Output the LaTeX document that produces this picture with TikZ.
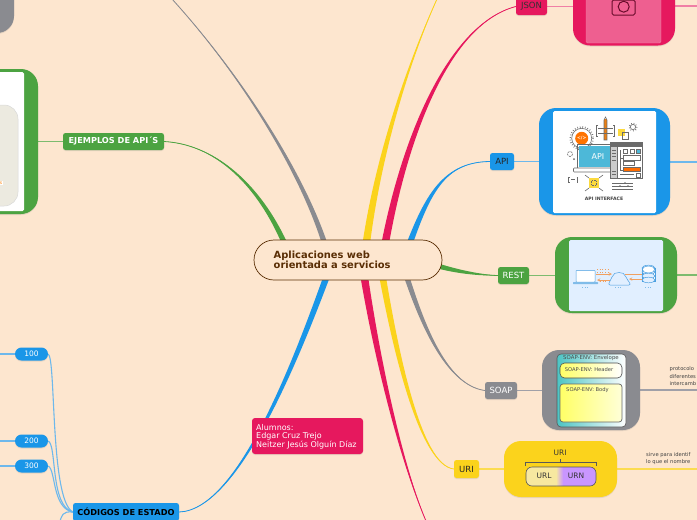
\documentclass[tikz,border=0pt]{standalone}
\usepackage{fontspec}
\setmainfont{DejaVu Sans}
\usetikzlibrary{calc,shadows,decorations.pathreplacing}
\pgfdeclarelayer{bg}
\pgfsetlayers{bg,main}
\definecolor{paper}{HTML}{FDE6CF}
\definecolor{cpink}{HTML}{E6185E}
\definecolor{cpinklt}{HTML}{EE5F90}
\definecolor{cblue}{HTML}{1A96E8}
\definecolor{cgreen}{HTML}{4CA341}
\definecolor{cgray}{HTML}{8A8B90}
\definecolor{cyellow}{HTML}{FBD31C}
\definecolor{cbrown}{HTML}{5A2E05}
\definecolor{lbluesky}{HTML}{E1EFFF}
\definecolor{orng}{HTML}{F0A060}
\definecolor{dbline}{HTML}{4A9FE0}
\definecolor{artgray}{HTML}{6A6A6A}
\definecolor{beige}{HTML}{ECEAE0}
\definecolor{urlc}{HTML}{F7E8A0}
\definecolor{urnc}{HTML}{C996FF}
\definecolor{softyellow}{HTML}{FFFF66}
\definecolor{softyellowb}{HTML}{FFFFD8}
\definecolor{tealc}{HTML}{4CC4C4}
\definecolor{apiscreen}{HTML}{4DB8D8}
\definecolor{leadgreen}{HTML}{7DBB6E}
\definecolor{leadblue}{HTML}{6DB8EC}
\definecolor{leadpink}{HTML}{F07FA5}
\definecolor{leadgray}{HTML}{A0A0A8}
\definecolor{leadyellow}{HTML}{FCDC50}
\newcommand\fs[1]{\fontsize{#1}{#1}\selectfont}
\newcommand\taper[6]{%
  \fill[#1] ($#2+#6$) .. controls ($#3+0.75*#6$) and ($#4+0.25*#6$) .. #5
     .. controls ($#4-0.25*#6$) and ($#3-0.75*#6$) .. ($#2-#6$) -- cycle;
  \draw[#1,line width=.8] #2 .. controls #3 and #4 .. #5;}
\tikzset{
  softshadow/.style={drop shadow={shadow xshift=0pt,shadow yshift=-1pt,opacity=.18}},
  lab/.style={rounded corners=2.5,inner sep=0,minimum height=17,font=\fs{8.5},softshadow},
  boldlab/.style={lab,font=\bfseries\fs{8.2}},
  pill/.style={rounded corners=6.5,inner sep=0,minimum width=33,minimum height=13,fill=cblue,text=white,font=\fs{7.5},softshadow},
  bigbox/.style={rounded corners=17,inner sep=0,softshadow},
  panel/.style={rounded corners=1.5,inner sep=0},
  note/.style={inner sep=0,anchor=west,text=black!75,font=\fs{5.2}},
  art/.style={artgray,line width=.6},
  lead/.style={line width=1.1},
}
\begin{document}
\begin{tikzpicture}[x=1pt,y=-1pt]
\useasboundingbox (0,0) rectangle (697,520);
\begin{pgfonlayer}{bg}
  \fill[paper] (0,0) rectangle (697,520);
\end{pgfonlayer}
\clip (0,0) rectangle (697,520);

% central topic
\node[draw=cbrown,line width=.7,fill=paper,rounded corners=20,minimum width=188,minimum height=40,inner sep=0] (center) at (348,260) {};
\node[inner sep=0,anchor=west,align=left,text=cbrown,font=\bfseries\fs{9.9}] (centertext) at (273.5,260) {\baselineskip=12pt Aplicaciones web\\orientada a servicios};

% image boxes
\node[bigbox,fill=cgray,minimum width=80,minimum height=70] (grayimg) at (-26,-2) {};
\node[bigbox,fill=cgreen,minimum width=120,minimum height=145] (ejimg) at (-22,141.5) {};
\node[panel,fill=white,minimum width=80,minimum height=139] (ejinner) at (-16,141.5) {};
\node[rounded corners=14,fill=beige,draw=black!15,line width=.5,inner sep=0,minimum width=70,minimum height=101] (ejbeige) at (-17,155.5) {};
\node[inner sep=1,fill=white,text=orange,font=\fs{4.5}] (ejtxt) at (1,183) {s};

\node[bigbox,fill=cpink,minimum width=102,minimum height=65] (jsonimg) at (624,13) {};
\node[panel,fill=cpinklt,draw=leadpink,line width=.4,minimum width=75,minimum height=60] (jsoninner) at (623.5,13) {};
\draw[black!55!cpink,line width=1,rounded corners=1.5] (612,0) rectangle (635,15);
\draw[black!55!cpink,line width=1] (623.7,6.7) circle (5.5);

\node[bigbox,fill=cblue,minimum width=131,minimum height=107] (apiimg) at (604.5,161.5) {};
\node[panel,fill=white,minimum width=103,minimum height=102] (apiinner) at (604.5,162) {};
% API art
\draw[art,dotted,line width=1.6] (581.7,138.3) circle (11.5);
\draw[art] (581.7,138.3) circle (10);
\fill[orange!90!red] (581.7,138.3) circle (6.5);
\node[inner sep=0,text=white,font=\bfseries\fs{4.5}] (apitag) at (581.7,138.3) {</>};
\fill[orange!70!brown] (604,119) rectangle (607,140);
\draw[art] (604,120) -- (605.5,117) -- (607,120) -- (607,140) -- (604,140) -- cycle;
\draw[art] (598,125) -- (596.5,125) -- (596.5,136) -- (598,136);
\draw[art] (613,125) -- (614.5,125) -- (614.5,136) -- (613,136);
\draw[art,line width=.4] (598,128) -- (613,128) (598,133) -- (613,133);
\fill[cyellow!85!white] (618,129) rectangle (625,136);
\draw[art] (622,132.5) rectangle (628.5,139.5);
\draw[art,dotted,line width=1.3] (633,127) circle (3.8);
\draw[art] (633,127) circle (2.6);
\draw[art,dashed,dash pattern=on 2pt off 1pt] (570,154) circle (2.5);
\fill[artgray] (574,159) circle (1);
\fill[apiscreen] (579,146) rectangle (612,167);
\draw[art] (577.5,144.5) rectangle (612,168);
\node[inner sep=0,text=white,font=\fs{8}] (apiword) at (598,156.5) {API};
\draw[art,fill=white,rounded corners=.8] (573.5,168) rectangle (613,172);
\draw[art,fill=white] (610.5,142) rectangle (642,178);
\fill[artgray] (610.5,142) rectangle (642,146.5);
\draw[art,fill=black!20] (610.5,146.5) rectangle (617,178);
\foreach \yy in {150,153,156,160,171,174}{\draw[artgray,line width=1] (612,\yy) -- (615.5,\yy);}
\draw[art] (623,149) rectangle (627.5,153.5) (630,149) rectangle (634,153.5);
\draw[art,fill=apiscreen] (636,149) rectangle (640,153.5);
\draw[art] (623,155.5) rectangle (640,160);
\draw[art] (623,161.5) rectangle (634,165.5);
\draw[art,fill=orange!85!red] (623,167) rectangle (640,171);
\draw[art] (636,173) rectangle (640,177);
\draw[artgray,line width=1] (620,174) -- (634,174);
\draw[art] (620,150) -- (620,170) -- (623,170) (620,158) -- (623,158);
\fill[cyellow!85!white] (589,178) rectangle (599,188);
\draw[art,dashed,dash pattern=on 1pt off .7pt] (591.5,180.5) rectangle (596.5,185.5);
\draw[art] (589,178) -- (585,175) (599,178) -- (603,175) (589,188) -- (585,191) (599,188) -- (603,191);
\draw[art] (569,177) -- (568.5,177) -- (568.5,182) -- (569,182) (576.5,177) -- (577,177) -- (577,182) -- (576.5,182) (571,179.5) -- (575,179.5);
\draw[art,line width=.4] (612,183) -- (633,183) (612,186) -- (633,186) (612,189) -- (633,189);
\fill[artgray] (625,183) circle (.9) (620,186) circle (.9) (628,186) circle (.9);
\node[inner sep=0,text=black!75,font=\bfseries\fs{4.6}] (apicap) at (604,199) {API INTERFACE};

\node[bigbox,fill=cgreen,minimum width=122,minimum height=76] (restimg) at (616,275) {};
\node[panel,fill=lbluesky,minimum width=94,minimum height=71] (restinner) at (616,275.5) {};
% REST art
\draw[dbline,fill=white,line width=.5,rounded corners=.5] (576,270.5) rectangle (595,282);
\fill[dbline!70!white,rounded corners=.5] (573,282) rectangle (598,284);
\draw[dbline,fill=lbluesky,line width=.5] (610,285) to[out=180,in=250] (612,277) to[out=70,in=170] (619,272.5) to[out=10,in=110] (626,277) to[out=-70,in=0] (629,285) -- cycle;
\draw[dbline,fill=white,line width=.5] (642,268) rectangle (655,281);
\foreach \yy in {268,272,276,280}{\draw[dbline,fill=lbluesky,line width=.5] (648.5,\yy) ellipse (6.5 and 2.8);}
\fill[white] (648.5,269.5) ellipse (6 and 3.2);
\draw[dbline,line width=.5] (648.5,269.5) ellipse (6.3 and 3.4);
\draw[orng,line width=.5,-stealth] (596,274) -- (612,274);
\draw[orng,line width=.5,stealth-] (597,280) -- (610,280);
\draw[orng,line width=.5] (625,274) -- (642,274);
\draw[orng,line width=.5,stealth-] (629,279) -- (642,279);
\draw[orng,line width=.7,dotted] (597,269) -- (609,269) (597,272) -- (609,272) (600,281.5) -- (606,281.5);
\draw[dbline!70!white,line width=.7,dotted] (582,287) -- (588,287) (615,287) -- (622,287) (645,287) -- (653,287);

\node[bigbox,fill=cgray,minimum width=98,minimum height=80] (soapimg) at (591,390) {};
\node[rounded corners=4,draw=black!65,line width=.6,left color=tealc,right color=white,inner sep=0,minimum width=69,minimum height=73] (envelope) at (591.5,390.5) {};
\node[inner sep=0,text=black!70,font=\fs{5.4}] (envtxt) at (591,358.5) {SOAP-ENV: Envelope};
\node[rounded corners=4.5,draw=black!70,line width=.6,left color=softyellow,right color=white,inner sep=0,minimum width=62,minimum height=15] (header) at (591,370.5) {};
\node[inner sep=0,text=black!70,font=\fs{5.2}] (headertxt) at (589,369.5) {SOAP-ENV: Header};
\node[rounded corners=3,draw=black!60,line width=.7,left color=softyellow,right color=softyellowb,inner sep=0,minimum width=62,minimum height=38] (body) at (591,403) {};
\node[inner sep=0,text=black!70,font=\fs{5.2}] (bodytxt) at (587.5,390) {SOAP-ENV: Body};

\node[bigbox,fill=cyellow,minimum width=113,minimum height=56] (uriimg) at (560.5,469) {};
\begin{scope}
  \clip[rounded corners=6] (526,467) rectangle (596,486);
  \fill[urlc] (526,467) rectangle (556,486);
  \shade[left color=urlc,right color=urnc] (556,467) rectangle (563,486);
  \fill[urnc] (563,467) rectangle (596,486);
\end{scope}
\node[draw=black!65,line width=.6,rounded corners=6,inner sep=0,minimum width=70,minimum height=19] (uribar) at (561,476.5) {};
\node[inner sep=0,text=black!80,font=\fs{7.5}] (urltxt) at (544,475.5) {URL};
\node[inner sep=0,text=black!80,font=\fs{7.5}] (urntxt) at (576,475.5) {URN};
\node[inner sep=0,text=black!80,font=\fs{7.5}] (uritxt) at (560,453) {URI};
\draw[black!65,line width=.6] (525,466) -- (525,462) -- (596,462) -- (596,466) (560.5,462) -- (560.5,458.5);

% labels
\node[lab,fill=cpink,text=black!80,minimum width=31] (json) at (531.5,6.5) {JSON};
\node[lab,fill=cblue,text=black!85,minimum width=24] (api) at (502,161.5) {API};
\node[lab,fill=cgreen,text=white,minimum width=31] (rest) at (513.5,275.5) {REST};
\node[lab,fill=cgray,text=white,minimum width=32] (soap) at (501,390.5) {SOAP};
\node[lab,fill=cyellow,text=black!85,minimum width=25,minimum height=18] (uri) at (466.5,469) {URI};
\node[boldlab,fill=cgreen,text=white,minimum width=101] (ejemplos) at (113.5,141.5) {EJEMPLOS DE API´S};
\node[boldlab,fill=cblue,text=black,minimum width=106,minimum height=18] (codigos) at (126,512) {CÓDIGOS DE ESTADO};
\node[rounded corners=3,fill=cpink,text=white,inner sep=0,minimum width=111,minimum height=36,softshadow] (alumnos) at (307.5,436) {};
\node[inner sep=0,anchor=west,align=left,text=white,font=\fs{8}] (alumnostxt) at (256,436.5) {\baselineskip=9.5pt Alumnos:\\Edgar Cruz Trejo\\Neitzer Jesús Olguín Díaz};
\node[pill] (c100) at (31.5,354) {100};
\node[pill] (c200) at (31.5,441) {200};
\node[pill] (c300) at (31.5,466) {300};

% notes as far as they show at the edge of the picture
\node[note] (soapnote1) at (669.5,369) {protocolo};
\node[note] (soapnote2) at (669.5,376.5) {diferentes};
\node[note] (soapnote3) at (669.5,384) {intercamb};
\node[note] (urinote1) at (646,455) {sirve para identif};
\node[note] (urinote2) at (646,462) {lo que el nombre};

% free ends
\coordinate (topgray) at (172,-1);
\coordinate (topyellow) at (437,-1);
\coordinate (botpink) at (426,521);
\coordinate (edgeA) at (698,6);
\coordinate (edgeB) at (698,162);
\coordinate (edgeC) at (698,275);
\coordinate (edgeD) at (698,390);
\coordinate (edgeE) at (698,469);
\coordinate (edge100) at (-1,354);
\coordinate (edge200) at (-1,441);
\coordinate (edge300) at (-1,466);
\coordinate (codedown) at (60,521);

\begin{pgfonlayer}{bg}
  % main branches, tapering away from the centre
  \taper{cgray}{(330,262)}{(312,190)}{(250,85)}{(topgray)}{(3,0)}
  \taper{cgreen}{(292,262)}{(270,200)}{(225,145)}{(ejemplos.east)}{(3.2,0)}
  \taper{cyellow}{(364,262)}{(374,170)}{(405,70)}{(topyellow)}{(4,0)}
  \taper{cpink}{(382,262)}{(400,150)}{(445,25)}{(json.west)}{(4,0)}
  \taper{cblue}{(403,262)}{(425,200)}{(440,162)}{(api.west)}{(3.5,0)}
  \taper{cgreen}{(425,262)}{(455,272)}{(480,275)}{(rest.west)}{(0,3)}
  \taper{cgray}{(402,262)}{(420,320)}{(445,385)}{(soap.west)}{(3,0)}
  \taper{cyellow}{(380,262)}{(395,350)}{(420,465)}{(uri.west)}{(3.5,0)}
  \taper{cpink}{(362,262)}{(375,350)}{(400,460)}{(botpink)}{(4,0)}
  \taper{cblue}{(332,262)}{(300,350)}{(240,510)}{(codigos.east)}{(3.5,0)}
  % leads to the images and beyond
  \draw[lead,leadpink] (json.east) -- (jsonimg.west |- json.east);
  \draw[lead,leadpink] (jsonimg.east |- edgeA) -- (edgeA);
  \draw[lead,leadblue] (api.east) -- (apiimg.west |- api.east);
  \draw[lead,leadblue] (apiimg.east |- edgeB) -- (edgeB);
  \draw[lead,leadgreen] (rest.east) -- (restimg.west |- rest.east);
  \draw[lead,leadgreen] (restimg.east |- edgeC) -- (edgeC);
  \draw[lead,leadgray] (soap.east) -- (soapimg.west |- soap.east);
  \draw[lead,leadgray] (soapimg.east |- edgeD) -- (edgeD);
  \draw[lead,leadyellow] (uri.east) -- (uriimg.west |- uri.east);
  \draw[lead,leadyellow] (uriimg.east |- edgeE) -- (edgeE);
  \draw[lead,leadgreen] (ejemplos.west) -- (ejimg.east |- ejemplos.west);
  % status codes
  \draw[lead,leadblue] (c100.east) .. controls (56,358) and (50,500) .. (codigos.west);
  \draw[lead,leadblue] (c200.east) .. controls (57,445) and (50,506) .. (codigos.west);
  \draw[lead,leadblue] (c300.east) .. controls (56,470) and (52,508) .. (codigos.west);
  \draw[lead,leadblue] (codigos.west) .. controls (62,511) and (62,516) .. (codedown);
  \draw[lead,leadblue] (c100.west) -- (edge100);
  \draw[lead,leadblue] (c200.west) -- (edge200);
  \draw[line width=1.6,leadblue] (c300.west) -- (edge300);
\end{pgfonlayer}
\end{tikzpicture}
\end{document}
